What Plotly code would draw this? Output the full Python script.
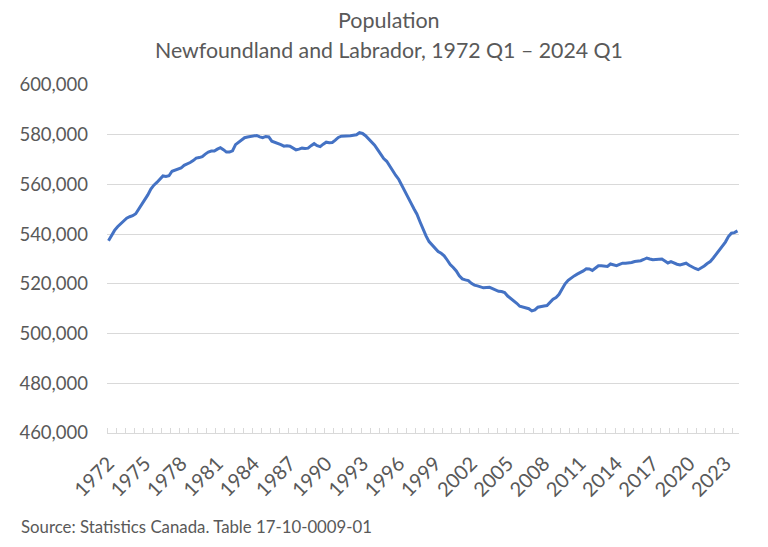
import plotly.graph_objects as go

# Quarterly population (thousands), 1972 Q1 .. 2024 Q1
pop_1970s = [
    537.3, 539.5, 541.5, 543.0,   # 1972
    544.2, 545.2, 546.4, 547.0,   # 1973
    547.4, 548.2, 550.0, 551.8,   # 1974
    553.8, 555.8, 558.1, 559.7,   # 1975
    560.8, 562.0, 563.4, 563.2,   # 1976
    563.5, 565.3, 565.8, 566.0,   # 1977
    566.6, 567.7, 568.2, 568.8,   # 1978
    569.6, 570.6, 570.8, 571.2,   # 1979
]
pop_1980s = [
    572.2, 573.0, 573.4, 573.4,   # 1980
    574.2, 574.8, 574.0, 573.0,   # 1981
    573.0, 573.5, 576.0, 577.0,   # 1982
    577.8, 578.8, 579.1, 579.3,   # 1983
    579.6, 579.7, 579.1, 578.8,   # 1984
    579.3, 579.1, 577.4, 577.0,   # 1985
    576.6, 576.0, 575.4, 575.6,   # 1986
    575.4, 574.8, 573.9, 574.2,   # 1987
    574.6, 574.5, 574.6, 575.6,   # 1988
    576.4, 575.6, 575.2, 576.2,   # 1989
]
pop_1990s = [
    577.0, 576.8, 576.9, 577.8,   # 1990
    578.9, 579.4, 579.4, 579.4,   # 1991
    579.6, 579.8, 580.0, 580.8,   # 1992
    580.5, 579.6, 578.4, 577.0,   # 1993
    575.8, 574.0, 572.2, 570.4,   # 1994
    569.3, 567.4, 565.2, 563.6,   # 1995
    562.0, 559.5, 557.6, 555.0,   # 1996
    552.6, 550.2, 548.0, 545.0,   # 1997
    541.8, 539.3, 537.0, 535.8,   # 1998
    534.2, 533.0, 532.3, 531.3,   # 1999
]
pop_2000s = [
    529.6, 527.8, 526.6, 525.2,   # 2000
    523.2, 522.0, 521.6, 521.3,   # 2001
    520.2, 519.5, 519.2, 518.8,   # 2002
    518.4, 518.5, 518.6, 518.1,   # 2003
    517.6, 517.0, 516.9, 516.5,   # 2004
    515.1, 514.2, 513.2, 512.2,   # 2005
    511.0, 510.6, 510.5, 510.0,   # 2006
    509.1, 509.5, 510.6, 511.0,   # 2007
    511.1, 511.3, 512.5, 513.8,   # 2008
    514.5, 515.8, 517.9, 520.0,   # 2009
]
pop_2010s = [
    521.4, 522.4, 523.2, 523.9,   # 2010
    524.5, 525.2, 526.1, 526.0,   # 2011
    525.4, 526.4, 527.3, 527.3,   # 2012
    527.3, 527.0, 528.0, 527.8,   # 2013
    527.3, 527.8, 528.3, 528.3,   # 2014
    528.3, 528.6, 529.0, 529.1,   # 2015
    529.3, 529.8, 530.4, 530.0,   # 2016
    529.7, 529.8, 529.9, 530.0,   # 2017
    529.2, 528.4, 528.9, 528.3,   # 2018
    527.9, 527.6, 528.1, 528.3,   # 2019
]
pop_2020s = [
    527.5, 526.7, 526.2, 525.7,   # 2020
    526.4, 527.2, 528.2, 529.0,   # 2021
    530.4, 532.0, 533.4, 535.2,   # 2022
    536.8, 539.0, 540.4, 540.6,   # 2023
    541.3,                        # 2024 Q1
]

first_year = 1972
tick_years = ["1972", "1975", "1978", "1981", "1984", "1987", "1990", "1993",
              "1996", "1999", "2002", "2005", "2008", "2011", "2014", "2017",
              "2020", "2023"]
y_ticks = [460000, 480000, 500000, 520000, 540000, 560000, 580000, 600000]

population = [v * 1000 for v in (pop_1970s + pop_1980s + pop_1990s +
                                 pop_2000s + pop_2010s + pop_2020s)]
idx = list(range(len(population)))
quarters = [f"{first_year + i // 4} Q{i % 4 + 1}" for i in idx]
tick_pos = [(int(y) - first_year) * 4 for y in tick_years]

FONT = "Lato"
GREY = "#595959"

fig = go.Figure()
fig.add_trace(go.Scatter(
    x=idx, y=population, mode="lines",
    customdata=quarters,
    hovertemplate="%{customdata}: %{y:,.0f}<extra></extra>",
    line=dict(color="#4472C4", width=3),
))

fig.update_layout(
    width=768, height=547,
    margin=dict(l=107, r=29, t=85, b=113.5, pad=0),
    paper_bgcolor="white", plot_bgcolor="white",
    showlegend=False,
    font=dict(family=FONT, color=GREY),
    xaxis=dict(
        range=[-0.5, len(population) - 0.5],
        tickmode="array", tickvals=tick_pos, ticktext=tick_years,
        tickangle=-45, ticks="", showgrid=False, zeroline=False,
        tickfont=dict(family=FONT, size=20, color=GREY),
        ticklabelstandoff=10,
        showline=True, linecolor="#d9d9d9", linewidth=1,
        minor=dict(ticks="inside", tickmode="linear", tick0=-0.5, dtick=3,
                   ticklen=5, tickcolor="#d9d9d9", tickwidth=1, showgrid=False),
    ),
    yaxis=dict(
        range=[460000, 600000],
        tickmode="array", tickvals=y_ticks,
        ticktext=[f"{v:,}" for v in y_ticks],
        showgrid=True, gridcolor="#d9d9d9", gridwidth=1,
        zeroline=False, showline=False, ticks="",
        tickfont=dict(family=FONT, size=18.5, color=GREY),
        ticklabelstandoff=18,
    ),
    annotations=[
        dict(text="Population", xref="paper", yref="paper",
             x=(389 - 107) / 632, y=(433.5 - 20) / 348.5,
             xanchor="center", yanchor="middle", showarrow=False,
             font=dict(family=FONT, size=21.5, color=GREY)),
        dict(text="Newfoundland and Labrador, 1972 Q1 – 2024 Q1",
             xref="paper", yref="paper",
             x=(388.5 - 107) / 632, y=(433.5 - 50) / 348.5,
             xanchor="center", yanchor="middle", showarrow=False,
             font=dict(family=FONT, size=21.3, color=GREY)),
        dict(text="Source: Statistics Canada. Table 17-10-0009-01",
             xref="paper", yref="paper",
             x=(19 - 107) / 632, y=(433.5 - 527) / 348.5,
             xanchor="left", yanchor="middle", showarrow=False,
             font=dict(family=FONT, size=16.8, color=GREY)),
    ],
)

fig.write_html("out.html")
